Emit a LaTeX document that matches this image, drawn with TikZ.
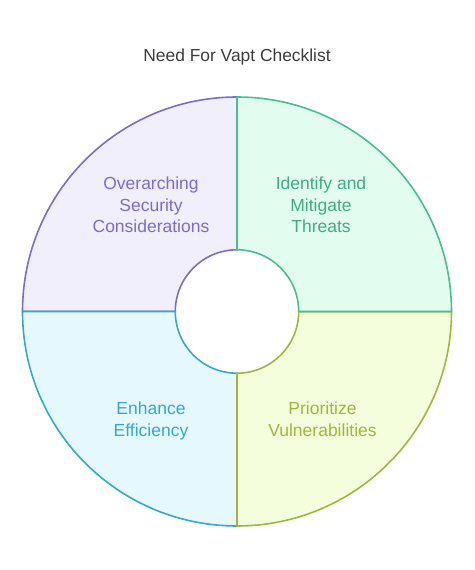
\documentclass[tikz,border=0pt]{standalone}
\usepackage{fontspec}
\setmainfont{Liberation Sans}
\definecolor{purpleline}{HTML}{7C6BD0}
\definecolor{purplefill}{HTML}{F1EFFC}
\definecolor{greenline}{HTML}{47BF8E}
\definecolor{greenfill}{HTML}{E2FCF0}
\definecolor{blueline}{HTML}{33A9CF}
\definecolor{bluefill}{HTML}{E5F8FE}
\definecolor{oliveline}{HTML}{9DB83C}
\definecolor{olivefill}{HTML}{F4FEDC}
\definecolor{titlegray}{HTML}{3C3C3C}
\begin{document}
\begin{tikzpicture}[
x=1pt,y=1pt,
every node/.append style={font={\fontsize{17.5}{21.5}\selectfont}},
caption/.style={font={\fontsize{17.4}{21}\selectfont},text=titlegray},
label/.style={align=center},
sector/.style={line width=1.6pt,line join=round},
]
\useasboundingbox (-237,-258.5) rectangle (237,311.5);
\def\Ro{214.5}
\def\Ri{61.7}

% quarters of the ring
\draw[sector,draw=purpleline,fill=purplefill] (180:\Ri) -- (180:\Ro) arc (180:90:\Ro) -- (90:\Ri) arc (90:180:\Ri) -- cycle;
\draw[sector,draw=blueline,fill=bluefill] (270:\Ri) -- (270:\Ro) arc (270:180:\Ro) -- (180:\Ri) arc (180:270:\Ri) -- cycle;
\draw[sector,draw=oliveline,fill=olivefill] (0:\Ri) -- (0:\Ro) arc (0:-90:\Ro) -- (-90:\Ri) arc (-90:0:\Ri) -- cycle;
\draw[sector,draw=greenline,fill=greenfill] (90:\Ri) -- (90:\Ro) arc (90:0:\Ro) -- (0:\Ri) arc (0:90:\Ri) -- cycle;

\node[caption] (title) at (0,254.5) {Need For Vapt Checklist};

\node[label,text=purpleline] (security) at (-86,106.5) {Overarching\\Security\\Considerations};
\node[label,text=greenline!90!black] (threats) at (84,106.5) {Identify and\\Mitigate\\Threats};
\node[label,text=blueline] (efficiency) at (-86,-109.5) {Enhance\\Efficiency};
\node[label,text=oliveline] (vuln) at (85.5,-107.5) {Prioritize\\Vulnerabilities};

\end{tikzpicture}
\end{document}
